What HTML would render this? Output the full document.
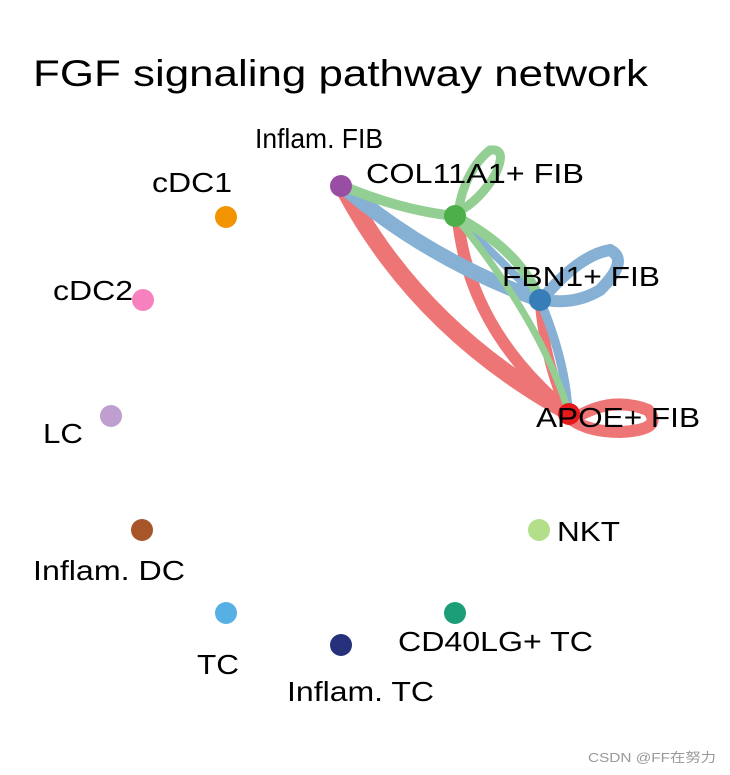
<!DOCTYPE html>
<html><head><style>body{margin:0;background:#fff}svg{display:block}text{font-family:"Liberation Sans",Arial,sans-serif}</style></head><body>
<svg width="730" height="775" viewBox="0 0 730 775">
<text x="33" y="86" font-size="37" textLength="615" lengthAdjust="spacingAndGlyphs">FGF signaling pathway network</text>
<g fill="none" stroke-linecap="round" opacity="0.6">
<path d="M569,412 Q420,330 345,190" stroke="#e41a1c" stroke-width="18"/>
<path d="M566,410 Q470,330 458,220" stroke="#e41a1c" stroke-width="12"/>
<path d="M566,410 Q545,360 540,305" stroke="#e41a1c" stroke-width="10"/>
<path d="M572,420 Q610,395 648,410 Q665,430 620,432 Q590,432 572,420" stroke="#e41a1c" stroke-width="12"/>
<path d="M540,300 Q430,260 345,188" stroke="#377eb8" stroke-width="15"/>
<path d="M540,300 Q500,260 457,218" stroke="#377eb8" stroke-width="8"/>
<path d="M540,300 Q565,360 568,410" stroke="#377eb8" stroke-width="9"/>
<path d="M545,296 Q580,255 610,250 Q630,260 600,290 Q575,305 545,300" stroke="#377eb8" stroke-width="12"/>
<path d="M455,216 Q400,210 343,186" stroke="#4daf4a" stroke-width="10"/>
<path d="M455,216 Q520,250 540,300" stroke="#4daf4a" stroke-width="10"/>
<path d="M455,216 Q540,320 568,410" stroke="#4daf4a" stroke-width="7"/>
<path d="M458,212 Q465,170 490,150 Q508,148 495,175 Q480,200 458,212" stroke="#4daf4a" stroke-width="9"/>
</g>
<g>
<circle cx="341" cy="186" r="11" fill="#984ea3"/>
<circle cx="455" cy="216" r="11" fill="#4daf4a"/>
<circle cx="540" cy="300" r="11" fill="#377eb8"/>
<circle cx="569" cy="414" r="11" fill="#e41a1c"/>
<circle cx="226" cy="217" r="11" fill="#f29400"/>
<circle cx="143" cy="300" r="11" fill="#f781bf"/>
<circle cx="111" cy="416" r="11" fill="#bf9fcf"/>
<circle cx="142" cy="530" r="11" fill="#a65628"/>
<circle cx="226" cy="613" r="11" fill="#56b0e4"/>
<circle cx="341" cy="645" r="11" fill="#25317a"/>
<circle cx="455" cy="613" r="11" fill="#1b9e77"/>
<circle cx="539" cy="530" r="11" fill="#b3de8a"/>
</g>
<g font-size="28" fill="#000" lengthAdjust="spacingAndGlyphs">
<text x="255" y="148" textLength="128" lengthAdjust="spacingAndGlyphs">Inflam. FIB</text>
<text x="366" y="183" textLength="218" lengthAdjust="spacingAndGlyphs">COL11A1+ FIB</text>
<text x="152" y="192" textLength="80" lengthAdjust="spacingAndGlyphs">cDC1</text>
<text x="53" y="300" textLength="80" lengthAdjust="spacingAndGlyphs">cDC2</text>
<text x="502" y="286" textLength="158" lengthAdjust="spacingAndGlyphs">FBN1+ FIB</text>
<text x="536" y="427" textLength="164" lengthAdjust="spacingAndGlyphs">APOE+ FIB</text>
<text x="43" y="443" textLength="40" lengthAdjust="spacingAndGlyphs">LC</text>
<text x="557" y="541" textLength="63" lengthAdjust="spacingAndGlyphs">NKT</text>
<text x="33" y="580" textLength="152" lengthAdjust="spacingAndGlyphs">Inflam. DC</text>
<text x="398" y="651" textLength="195" lengthAdjust="spacingAndGlyphs">CD40LG+ TC</text>
<text x="197" y="674" textLength="42" lengthAdjust="spacingAndGlyphs">TC</text>
<text x="287" y="701" textLength="147" lengthAdjust="spacingAndGlyphs">Inflam. TC</text>
</g>
<text x="588" y="762" font-size="13" fill="#999" textLength="128" lengthAdjust="spacingAndGlyphs">CSDN @FF在努力</text>
</svg>
</body></html>
